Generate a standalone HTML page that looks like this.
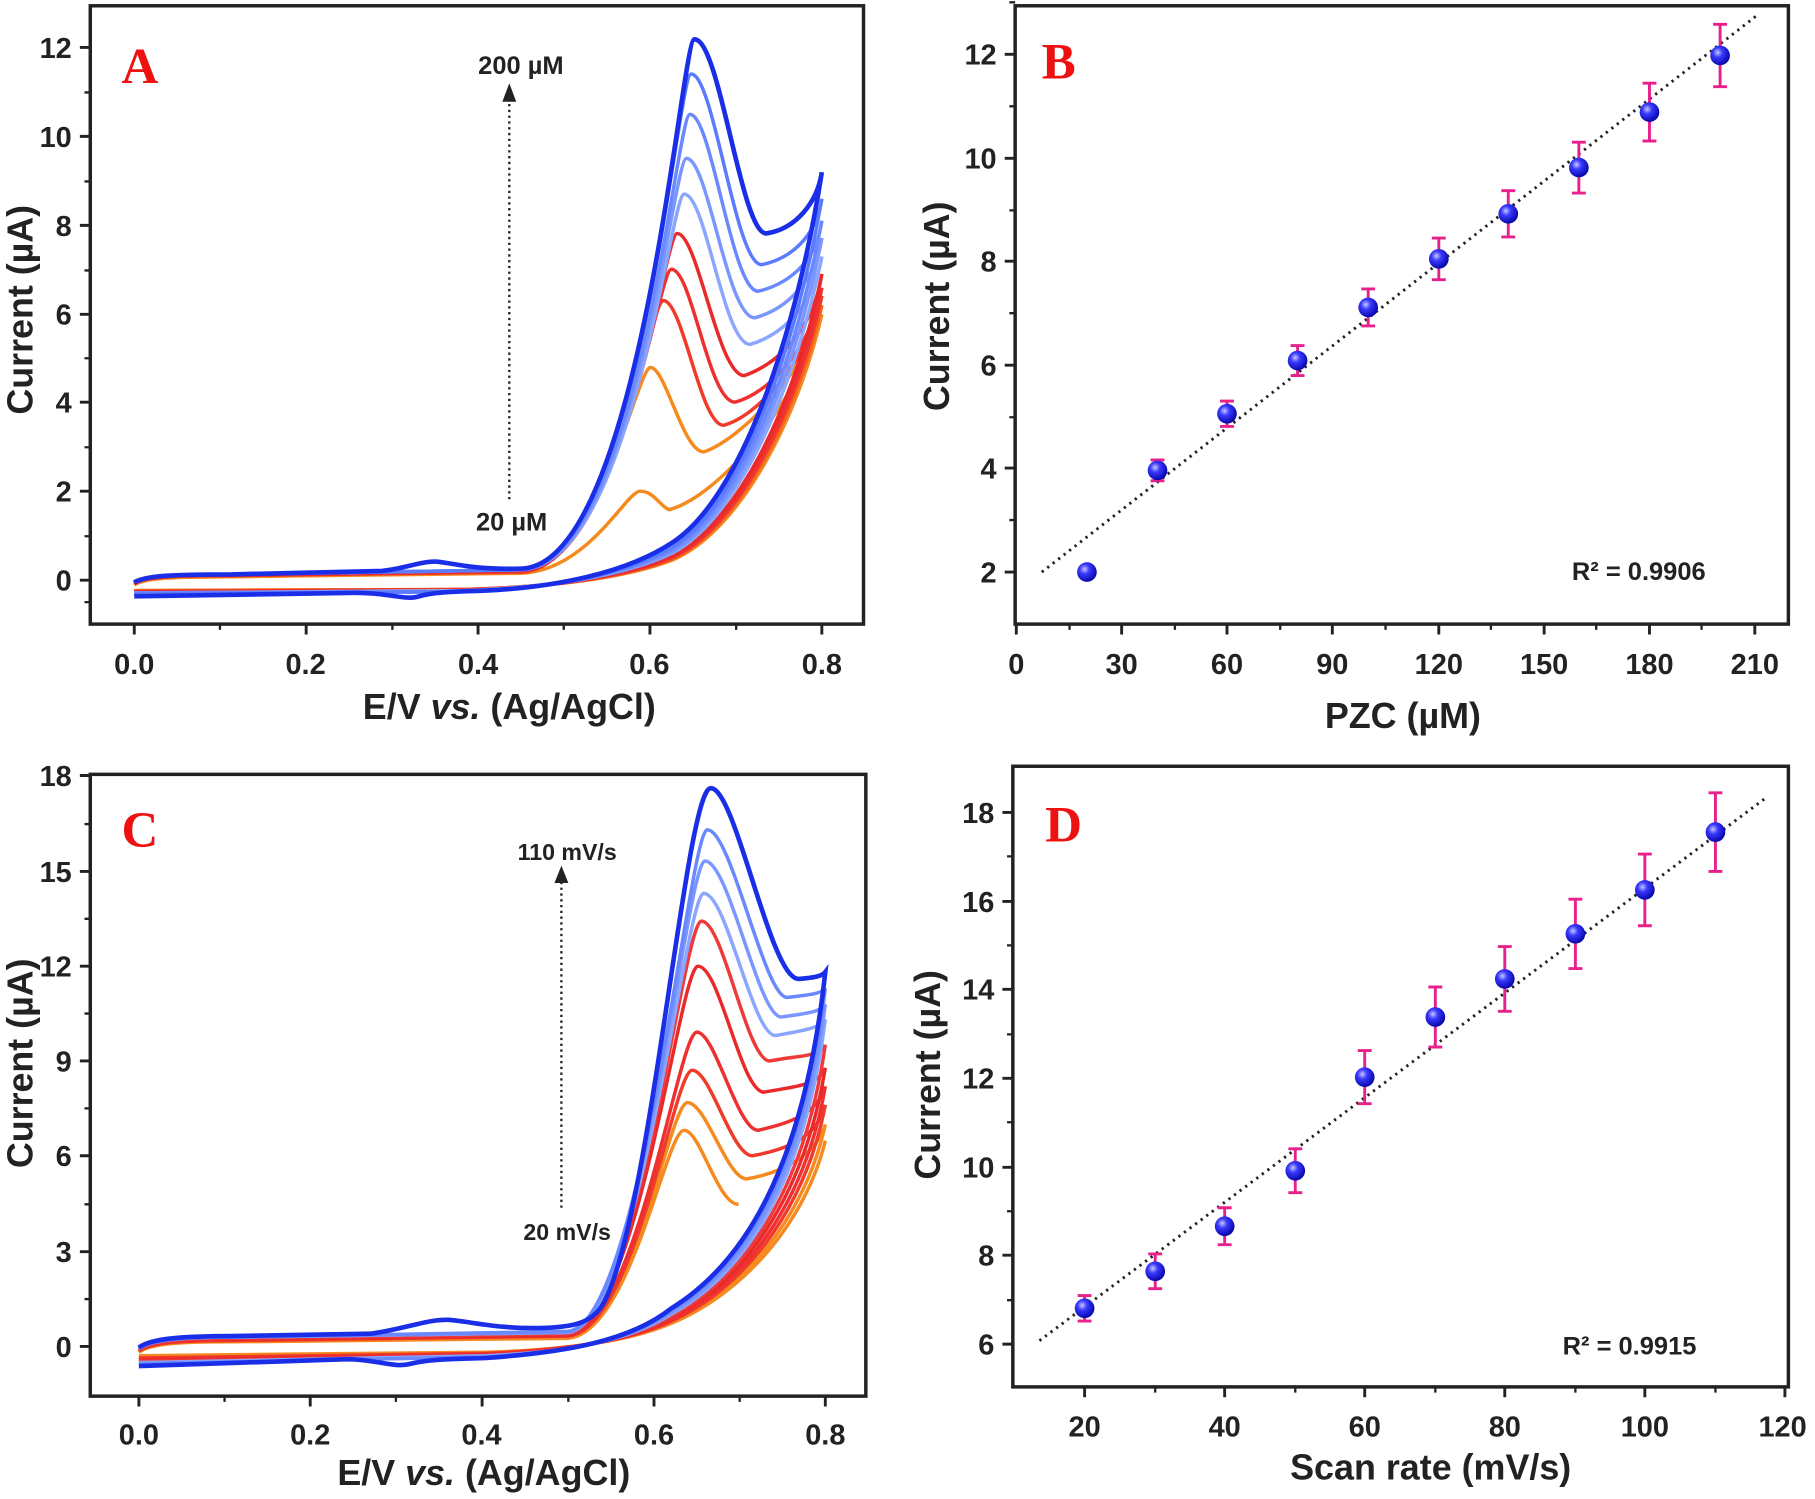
<!DOCTYPE html>
<html><head><meta charset="utf-8"><style>
html,body{margin:0;padding:0;background:#fff;}
svg{display:block;}
text{font-family:"Liberation Sans",sans-serif;font-weight:bold;fill:#222;}
.L{font-family:"Liberation Serif",serif;fill:#ee1111;font-size:44px;}
.t{font-size:25px;}
.ax{font-size:31px;}
.an{font-size:22px;}
.f{fill:none;stroke-width:3;}
</style></head><body>
<svg width="1815" height="1499" viewBox="0 0 1568 1297" preserveAspectRatio="none" xmlns="http://www.w3.org/2000/svg">
<defs>
<radialGradient id="b" cx="0.38" cy="0.35" r="0.7">
<stop offset="0" stop-color="#c8c8ff"/><stop offset="0.35" stop-color="#3a3aff"/><stop offset="1" stop-color="#0000a0"/>
</radialGradient>
<g id="ball"><circle r="8.5" fill="url(#b)"/></g>
</defs>

<!-- ===== Panel A ===== -->
<g class="f">
<path stroke="#f58a1e" d="M116,506C125,500 150,499 200,499L450,496C508,494 541,425 553,425C565,425 570,438 578,441C620,430 690,350 710,272"/>
<path stroke="#f58a1e" d="M116,506C125,500 150,499 200,499L450,495C517,493 550,318 562,318C575,318 590,391 608,391C640,380 700,320 710,264"/>
<path stroke="#f03a2a" d="M116,505C125,499 150,498 200,498L450,495C528,493 561,260 573,260C590,260 605,368 625,368C655,360 700,310 710,256"/>
<path stroke="#ee3030" d="M116,505C125,499 150,498 200,498L450,494C535,492 568,233 580,233C598,233 612,348 635,348C665,340 702,300 710,249"/>
<path stroke="#ea2a2a" d="M116,505C125,499 150,498 200,498L450,494C540,492 573,202 585,202C603,202 620,325 643,325C672,315 703,285 710,237"/>
<path stroke="#8aa6ff" d="M116,504C125,498 150,497 200,497L450,493C546,491 579,168 591,168C610,168 625,298 648,298C675,290 703,265 710,222"/>
<path stroke="#7a96ff" d="M116,504C125,498 150,497 200,497L450,493C548,491 581,137 593,137C612,137 628,275 652,275C678,268 704,245 710,206"/>
<path stroke="#6a88ff" d="M116,504C125,498 150,497 200,497L450,493C551,491 584,99 596,99C615,99 632,252 655,252C680,246 705,228 710,191"/>
<path stroke="#5a7aff" d="M116,504C125,498 150,497 200,497L450,493C552,491 585,64 597,64C617,64 635,229 658,229C683,224 705,205 710,172"/>
<!-- return branches -->
<path stroke="#f58a1e" d="M710,272C690,360 640,460 580,485C540,500 480,508 400,510L116,511"/>
<path stroke="#f5651e" d="M710,264C690,355 640,458 580,484C540,500 480,508 400,510L116,511"/>
<path stroke="#f03a2a" d="M710,256C690,350 640,456 580,483C540,499 480,508 400,510L116,512"/>
<path stroke="#ee3030" d="M710,249C690,345 640,455 580,482C540,499 480,508 400,511L116,512"/>
<path stroke="#ea2a2a" d="M710,237C690,340 640,452 580,481C540,499 480,508 400,511L116,512"/>
<path stroke="#8aa6ff" d="M710,222C688,330 640,448 580,479C540,498 480,508 400,511L116,513"/>
<path stroke="#7a96ff" d="M710,206C688,320 640,445 580,478C540,498 480,508 400,512L116,513"/>
<path stroke="#6a88ff" d="M710,191C688,310 640,442 580,476C540,497 480,508 400,512L116,513"/>
<path stroke="#5a7aff" d="M710,172C688,300 640,438 580,474C540,497 480,508 400,512L116,514"/>
<path stroke="#1a2ee8" stroke-width="4" d="M116,504C125,498 150,497 200,497L330,494C350,492 365,485 378,486C395,488 410,493 450,492C555,490 588,34 600,34C622,34 640,202 662,202C688,198 706,175 710,149C688,290 640,432 580,470C540,496 480,508 420,511C395,512 375,512 362,516C350,520 335,512 300,513L116,516"/>
</g>
<!-- A axes -->
<rect x="78" y="5" width="668" height="535" fill="none" stroke="#222" stroke-width="3"/>
<path stroke="#222" stroke-width="2.5" fill="none" d="M116,540v9M264.5,540v9M413,540v9M561.5,540v9M710,540v9M78,502h-9M78,425h-9M78,348h-9M78,272h-9M78,195h-9M78,118h-9M78,41h-9"/>
<path stroke="#222" stroke-width="2" fill="none" d="M190,540v5M339,540v5M487,540v5M636,540v5M78,464h-5M78,387h-5M78,310h-5M78,234h-5M78,157h-5M78,80h-5M78,521h-5"/>
<g class="t" text-anchor="middle"><text x="116" y="583">0.0</text><text x="264" y="583">0.2</text><text x="413" y="583">0.4</text><text x="561" y="583">0.6</text><text x="710" y="583">0.8</text></g>
<g class="t" text-anchor="end"><text x="62" y="511">0</text><text x="62" y="434">2</text><text x="62" y="357">4</text><text x="62" y="281">6</text><text x="62" y="204">8</text><text x="62" y="127">10</text><text x="62" y="50">12</text></g>
<text class="L" x="105" y="72">A</text>
<text class="ax" text-anchor="middle" transform="translate(28,268) rotate(-90)">Current (µA)</text>
<text class="ax" x="440" y="622" text-anchor="middle">E/V <tspan font-style="italic">vs.</tspan> (Ag/AgCl)</text>
<line x1="440" y1="432" x2="440" y2="85" stroke="#222" stroke-width="2" stroke-dasharray="2,3"/>
<path d="M434,88L440,72L446,88Z" fill="#222"/>
<text class="an" x="450" y="64" text-anchor="middle">200 µM</text>
<text class="an" x="442" y="459" text-anchor="middle">20 µM</text>

<!-- ===== Panel B ===== -->
<rect x="877" y="5" width="668" height="535" fill="none" stroke="#222" stroke-width="3"/>
<path stroke="#222" stroke-width="2.5" fill="none" d="M878,540v9M969,540v9M1060,540v9M1151,540v9M1243,540v9M1334,540v9M1425,540v9M1516,540v9M877,495h-9M877,405h-9M877,316h-9M877,226h-9M877,137h-9M877,47h-9"/>
<path stroke="#222" stroke-width="2" fill="none" d="M924,540v5M1015,540v5M1106,540v5M1197,540v5M1288,540v5M1379,540v5M1470,540v5M877,450h-5M877,361h-5M877,271h-5M877,182h-5M877,92h-5M877,2h-5"/>
<g class="t" text-anchor="middle"><text x="878" y="583">0</text><text x="969" y="583">30</text><text x="1060" y="583">60</text><text x="1151" y="583">90</text><text x="1243" y="583">120</text><text x="1334" y="583">150</text><text x="1425" y="583">180</text><text x="1516" y="583">210</text></g>
<g class="t" text-anchor="end"><text x="861" y="504">2</text><text x="861" y="414">4</text><text x="861" y="325">6</text><text x="861" y="235">8</text><text x="861" y="146">10</text><text x="861" y="56">12</text></g>
<text class="L" x="900" y="68">B</text>
<text class="ax" text-anchor="middle" transform="translate(820,265) rotate(-90)">Current (µA)</text>
<text class="ax" x="1212" y="630" text-anchor="middle">PZC (µM)</text>
<line x1="900" y1="495" x2="1517" y2="14" stroke="#222" stroke-width="2.5" stroke-dasharray="2,4"/>
<path stroke="#e8208c" stroke-width="2.5" fill="none" d="M939,493v4M1000,398v18M994,398h12M994,416h12M1060,347v22M1054,347h12M1054,369h12M1121,299v26M1115,299h12M1115,325h12M1182,250v32M1176,250h12M1176,282h12M1243,206v36M1237,206h12M1237,242h12M1303,165v40M1297,165h12M1297,205h12M1364,123v44M1358,123h12M1358,167h12M1425,72v50M1419,72h12M1419,122h12M1486,21v54M1480,21h12M1480,75h12"/>
<use href="#ball" x="939" y="495"/><use href="#ball" x="1000" y="407"/><use href="#ball" x="1060" y="358"/><use href="#ball" x="1121" y="312"/><use href="#ball" x="1182" y="266"/><use href="#ball" x="1243" y="224"/><use href="#ball" x="1303" y="185"/><use href="#ball" x="1364" y="145"/><use href="#ball" x="1425" y="97"/><use href="#ball" x="1486" y="48"/>
<text class="an" x="1358" y="502">R² = 0.9906</text>

<!-- ===== Panel C ===== -->
<g class="f">
<path stroke="#f58a1e" d="M120,1170C130,1162 160,1161 200,1161L490,1158C545,1155 575,978 591,978C605,978 620,1042 638,1042"/>
<path stroke="#f58a1e" d="M120,1170C130,1162 160,1160 200,1160L490,1157C547,1154 578,954 594,954C610,954 628,1020 645,1020C675,1015 705,1000 713,973"/>
<path stroke="#f03a2a" d="M120,1169C130,1161 160,1160 200,1160L490,1156C549,1153 582,926 598,926C614,926 632,1000 650,1000C678,995 706,985 713,956"/>
<path stroke="#ee3030" d="M120,1169C130,1161 160,1159 200,1159L490,1156C550,1152 586,893 602,893C618,893 637,978 655,978C680,972 706,965 713,940"/>
<path stroke="#ea2a2a" d="M120,1168C130,1160 160,1159 200,1159L490,1155C551,1151 587,836 603,836C622,836 640,945 660,945C685,940 707,940 713,924"/>
<path stroke="#ee3a3a" d="M120,1168C130,1160 160,1158 200,1158L490,1154C552,1150 590,797 606,797C625,797 645,918 665,918C690,913 708,915 713,904"/>
<path stroke="#8aa6ff" d="M120,1167C130,1159 160,1157 200,1157L490,1153C553,1149 592,773 608,773C628,773 650,896 670,896C692,892 708,890 713,882"/>
<path stroke="#7a96ff" d="M120,1167C130,1159 160,1157 200,1157L490,1153C554,1149 593,745 609,745C630,745 655,880 675,880C695,877 709,876 713,869"/>
<path stroke="#6a88ff" d="M120,1167C130,1159 160,1157 200,1157L490,1152C555,1148 595,718 611,718C632,718 660,863 680,863C698,861 710,860 713,855"/>
<!-- C returns -->
<path stroke="#f58a1e" d="M713,987C695,1060 640,1120 580,1145C545,1160 490,1168 420,1170L120,1173"/>
<path stroke="#f58a1e" d="M713,973C695,1055 640,1118 580,1144C545,1160 490,1168 420,1171L120,1174"/>
<path stroke="#f03a2a" d="M713,956C695,1050 640,1116 580,1143C545,1160 490,1168 420,1171L120,1175"/>
<path stroke="#ee3030" d="M713,940C695,1045 640,1113 580,1142C545,1160 490,1169 420,1172L120,1176"/>
<path stroke="#ea2a2a" d="M713,924C694,1040 640,1110 580,1140C545,1160 490,1169 420,1172L120,1177"/>
<path stroke="#ee3a3a" d="M713,904C694,1035 640,1107 580,1139C545,1160 490,1169 420,1173L120,1178"/>
<path stroke="#8aa6ff" d="M713,882C694,1030 640,1104 580,1137C545,1160 490,1170 420,1173L120,1179"/>
<path stroke="#7a96ff" d="M713,869C694,1025 640,1101 580,1136C545,1160 490,1170 420,1174L120,1180"/>
<path stroke="#6a88ff" d="M713,855C694,1020 640,1098 580,1134C545,1160 490,1170 420,1174L120,1180"/>
<path stroke="#1a2ee8" stroke-width="4" d="M120,1166C130,1158 160,1156 200,1156L320,1154C350,1150 370,1141 388,1142C410,1144 430,1150 470,1149C495,1148 510,1145 520,1130C562,1060 592,682 614,682C636,682 665,847 690,847C702,846 710,845 713,841C694,1015 640,1095 580,1132C545,1160 490,1170 420,1175C390,1176 370,1176 355,1180C340,1184 325,1176 300,1176L120,1182"/>
</g>
<rect x="78" y="670" width="670" height="538" fill="none" stroke="#222" stroke-width="3"/>
<path stroke="#222" stroke-width="2.5" fill="none" d="M120,1208v9M268,1208v9M416.5,1208v9M565,1208v9M713,1208v9M78,1165h-9M78,1083h-9M78,1000h-9M78,918h-9M78,836h-9M78,754h-9M78,671h-9"/>
<path stroke="#222" stroke-width="2" fill="none" d="M194,1208v5M342,1208v5M491,1208v5M639,1208v5M78,1124h-5M78,1042h-5M78,959h-5M78,877h-5M78,795h-5M78,713h-5"/>
<g class="t" text-anchor="middle"><text x="120" y="1250">0.0</text><text x="268" y="1250">0.2</text><text x="416" y="1250">0.4</text><text x="565" y="1250">0.6</text><text x="713" y="1250">0.8</text></g>
<g class="t" text-anchor="end"><text x="62" y="1174">0</text><text x="62" y="1092">3</text><text x="62" y="1009">6</text><text x="62" y="927">9</text><text x="62" y="845">12</text><text x="62" y="763">15</text><text x="62" y="680">18</text></g>
<text class="L" x="105" y="733">C</text>
<text class="ax" text-anchor="middle" transform="translate(28,920) rotate(-90)">Current (µA)</text>
<text class="ax" x="418" y="1285" text-anchor="middle">E/V <tspan font-style="italic">vs.</tspan> (Ag/AgCl)</text>
<line x1="485" y1="1045" x2="485" y2="762" stroke="#222" stroke-width="2" stroke-dasharray="2,3"/>
<path d="M479,764L485,749L491,764Z" fill="#222"/>
<text x="490" y="744" font-size="20" text-anchor="middle">110 mV/s</text>
<text x="490" y="1073" font-size="20" text-anchor="middle">20 mV/s</text>

<!-- ===== Panel D ===== -->
<rect x="875" y="663" width="670" height="537" fill="none" stroke="#222" stroke-width="3"/>
<path stroke="#222" stroke-width="2.5" fill="none" d="M937,1200v9M1058,1200v9M1179,1200v9M1300,1200v9M1421,1200v9M1542,1200v9M875,1163h-9M875,1086h-9M875,1010h-9M875,933h-9M875,856h-9M875,780h-9M875,703h-9"/>
<path stroke="#222" stroke-width="2" fill="none" d="M998,1200v5M1119,1200v5M1240,1200v5M1361,1200v5M1482,1200v5M875,1125h-5M875,1048h-5M875,971h-5M875,895h-5M875,818h-5M875,741h-5"/>
<g class="t" text-anchor="middle"><text x="937" y="1243">20</text><text x="1058" y="1243">40</text><text x="1179" y="1243">60</text><text x="1300" y="1243">80</text><text x="1421" y="1243">100</text><text x="1540" y="1243">120</text></g>
<g class="t" text-anchor="end"><text x="859" y="1172">6</text><text x="859" y="1095">8</text><text x="859" y="1019">10</text><text x="859" y="942">12</text><text x="859" y="865">14</text><text x="859" y="789">16</text><text x="859" y="712">18</text></g>
<text class="L" x="903" y="728">D</text>
<text class="ax" text-anchor="middle" transform="translate(812,930) rotate(-90)">Current (µA)</text>
<text class="ax" x="1236" y="1280" text-anchor="middle">Scan rate (mV/s)</text>
<line x1="898" y1="1160" x2="1526" y2="690" stroke="#222" stroke-width="2.5" stroke-dasharray="2,4"/>
<path stroke="#e8208c" stroke-width="2.5" fill="none" d="M937,1121v22M931,1121h12M931,1143h12M998,1085v30M992,1085h12M992,1115h12M1058,1045v32M1052,1045h12M1052,1077h12M1119,994v38M1113,994h12M1113,1032h12M1179,909v46M1173,909h12M1173,955h12M1240,854v52M1234,854h12M1234,906h12M1300,819v56M1294,819h12M1294,875h12M1361,778v60M1355,778h12M1355,838h12M1421,739v62M1415,739h12M1415,801h12M1482,686v68M1476,686h12M1476,754h12"/>
<use href="#ball" x="937" y="1132"/><use href="#ball" x="998" y="1100"/><use href="#ball" x="1058" y="1061"/><use href="#ball" x="1119" y="1013"/><use href="#ball" x="1179" y="932"/><use href="#ball" x="1240" y="880"/><use href="#ball" x="1300" y="847"/><use href="#ball" x="1361" y="808"/><use href="#ball" x="1421" y="770"/><use href="#ball" x="1482" y="720"/>
<text class="an" x="1350" y="1172">R² = 0.9915</text>
</svg>
</body></html>
